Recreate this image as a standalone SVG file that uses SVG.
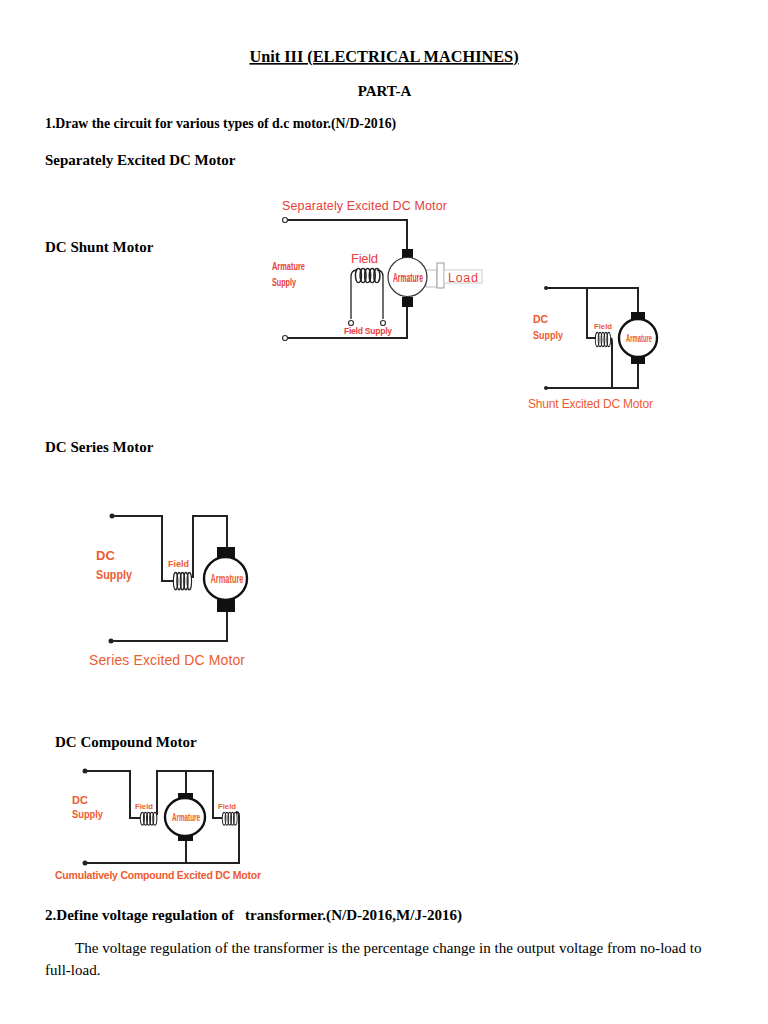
<svg xmlns="http://www.w3.org/2000/svg" width="768" height="1024" viewBox="0 0 768 1024">
<style>
.t{font-family:"Liberation Serif","Times New Roman",serif;font-size:15px;fill:#000}
.b{font-weight:bold}
.w{fill:none;stroke:#222;stroke-width:2}
.c{fill:none;stroke:#222;stroke-width:1.3}
.br{fill:#111}
.m{fill:#fff;stroke:#333;stroke-width:1.2}
.mb{fill:#fff;stroke:#111;stroke-width:2.4}
.r{font-family:"Liberation Sans",Arial,sans-serif;fill:#e8403a}
.o{font-family:"Liberation Sans",Arial,sans-serif;fill:#ee5a30}
.rb{font-weight:bold}
.dot{fill:#222}
</style>
<defs>
<g id="coil" class="c">
<ellipse cx="3" cy="8" rx="2.6" ry="7.5"/><ellipse cx="7" cy="8" rx="2.6" ry="7.5"/><ellipse cx="11" cy="8" rx="2.6" ry="7.5"/><ellipse cx="15" cy="8" rx="2.6" ry="7.5"/><ellipse cx="19" cy="8" rx="2.6" ry="7.5"/>
</g>
</defs>
<g id="page-text">
<text class="t b" x="384" y="62" text-anchor="middle" style="font-size:16.3px" text-decoration="underline">Unit III (ELECTRICAL MACHINES)</text>
<text class="t b" x="384.500" y="96" text-anchor="middle">PART-A</text>
<text class="t b" x="45" y="128" style="font-size:13.8px">1.Draw the circuit for various types of d.c motor.(N/D-2016)</text>
<text class="t b" x="45" y="165">Separately Excited DC Motor</text>
<text class="t b" x="45" y="252">DC Shunt Motor</text>
<text class="t b" x="45" y="452">DC Series Motor</text>
<text class="t b" x="55" y="747">DC Compound Motor</text>
<text class="t b" x="45" y="920" style="font-size:15.07px">2.Define voltage regulation of&#160;&#160; transformer.(N/D-2016,M/J-2016)</text>
<text class="t" x="75" y="953" style="font-size:15.07px">The voltage regulation of the transformer is the percentage change in the output voltage from no-load to</text>
<text class="t" x="45" y="975">full-load.</text>
</g>
<g id="connectors">
<path class="w" d="M288 220H407V249M407 307V338H288"/>
<path class="c" d="M351 319V277Q351 270 357 270M383 319V277Q383 270 377 270"/>
<path class="w" d="M546 288H638V312M638 364V388H546M587 288V338H596M611 338Q612 339 612 343V388"/>
<path class="w" d="M112 516H162V581H174M191 577H193V516H227V547M227 612V641H111"/>
<path class="w" d="M85 771H130V818H140M157 815V771H213V818H222M186 771V794M186 840V863H85M186 863H239V816Q239 812 236 812"/>
</g>
<g id="coils">
<use href="#coil" transform="translate(355 268) scale(1.15 0.95)"/>
<use href="#coil" transform="translate(595 332) scale(0.72 0.95)"/>
<use href="#coil" transform="translate(173 572) scale(0.86 1.15)"/>
<use href="#coil" transform="translate(140 812) scale(0.78 0.85)"/>
<use href="#coil" transform="translate(222 812) scale(0.7 0.85)"/>
</g>
<g id="terminals">
<circle class="m" cx="285" cy="220" r="2.5"/><circle class="m" cx="285" cy="338" r="2.5"/>
<circle class="m" cx="351" cy="323" r="2.5"/><circle class="m" cx="383" cy="323" r="2.5"/>
<circle class="dot" cx="546" cy="288" r="2"/><circle class="dot" cx="546" cy="388" r="2"/>
<circle class="dot" cx="112" cy="516" r="2.5"/><circle class="dot" cx="111" cy="641" r="2.5"/>
<circle class="dot" cx="85" cy="771" r="2.5"/><circle class="dot" cx="85" cy="863" r="2.5"/>
</g>
<g id="separately-excited">
<text class="r" x="282" y="210" style="font-size:12.5px" textLength="165">Separately Excited DC Motor</text>
<text class="r rb" x="272" y="270" style="font-size:11px" textLength="33" lengthAdjust="spacingAndGlyphs">Armature</text>
<text class="r rb" x="272" y="286" style="font-size:11px" textLength="24" lengthAdjust="spacingAndGlyphs">Supply</text>
<text class="r" x="351" y="263" style="font-size:13px" textLength="27">Field</text>
<text class="r rb" x="344" y="334" style="font-size:8.500px" textLength="48">Field Supply</text>
<rect class="br" x="402" y="249" width="11" height="10"/><rect class="br" x="402" y="297" width="11" height="10"/>
<rect x="426" y="270" width="11" height="17" fill="#fff" stroke="#bbb"/>
<rect x="437" y="263" width="7" height="25" fill="#fff" stroke="#999"/>
<rect x="444" y="270" width="38" height="13" fill="#fff" stroke="#ccc"/>
<circle class="m" cx="407.500" cy="277" r="19.500"/>
<text class="r rb" x="408" y="282" text-anchor="middle" style="font-size:12px" textLength="30" lengthAdjust="spacingAndGlyphs">Armature</text>
<text class="r" x="448" y="282" style="font-size:12.500px" textLength="30">Load</text>
</g>
<g id="shunt-excited">
<text class="o rb" x="533" y="323" style="font-size:10.500px">DC</text>
<text class="o rb" x="533" y="339" style="font-size:10.500px" textLength="30" lengthAdjust="spacingAndGlyphs">Supply</text>
<text class="o rb" x="594" y="329" style="font-size:8px" textLength="18" lengthAdjust="spacingAndGlyphs">Field</text>
<rect class="br" x="631" y="312" width="14" height="11"/><rect class="br" x="631" y="354" width="14" height="10"/>
<circle class="mb" cx="638" cy="338" r="19"/>
<text class="o rb" x="639" y="342" text-anchor="middle" style="font-size:11px" textLength="26" lengthAdjust="spacingAndGlyphs">Armature</text>
<text class="o" x="528" y="408" style="font-size:12px" textLength="125">Shunt Excited DC Motor</text>
</g>
<g id="series-excited">
<text class="o rb" x="96" y="560" style="font-size:13px">DC</text>
<text class="o rb" x="96" y="579" style="font-size:13px" textLength="36" lengthAdjust="spacingAndGlyphs">Supply</text>
<text class="o rb" x="168" y="567" style="font-size:9px" textLength="21" lengthAdjust="spacingAndGlyphs">Field</text>
<rect class="br" x="217" y="547" width="18" height="13"/><rect class="br" x="217" y="599" width="18" height="13"/>
<circle class="mb" cx="225.500" cy="578.500" r="21.500"/>
<text class="o rb" x="227" y="583" text-anchor="middle" style="font-size:13px" textLength="33" lengthAdjust="spacingAndGlyphs">Armature</text>
<text class="o" x="89" y="665" style="font-size:14px" textLength="156">Series Excited DC Motor</text>
</g>
<g id="compound-excited">
<text class="o rb" x="72" y="804" style="font-size:11px">DC</text>
<text class="o rb" x="72" y="818" style="font-size:11px" textLength="31" lengthAdjust="spacingAndGlyphs">Supply</text>
<text class="o rb" x="135" y="809" style="font-size:8px" textLength="18" lengthAdjust="spacingAndGlyphs">Field</text>
<text class="o rb" x="218" y="809" style="font-size:8px" textLength="18" lengthAdjust="spacingAndGlyphs">Field</text>
<rect class="br" x="178" y="793" width="15" height="10"/><rect class="br" x="178" y="832" width="15" height="9"/>
<ellipse class="mb" cx="185" cy="817" rx="20" ry="19"/>
<text class="o rb" x="186" y="821" text-anchor="middle" style="font-size:11.500px" textLength="28" lengthAdjust="spacingAndGlyphs">Armature</text>
<text class="o rb" x="55" y="879" style="font-size:10.500px" textLength="206">Cumulatively Compound Excited DC Motor</text>
</g>
</svg>
